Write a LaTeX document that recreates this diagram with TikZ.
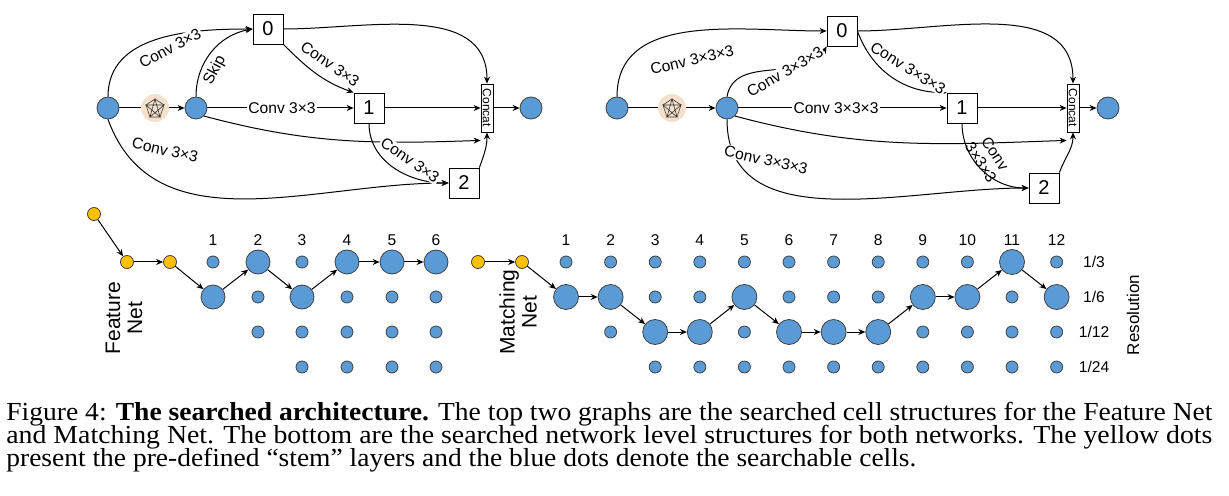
\documentclass[tikz,border=0pt]{standalone}
\usepackage{fontspec}
\setmainfont{Liberation Serif}
\newfontfamily\sansf{Liberation Sans}
\usepackage{graphicx}
\usetikzlibrary{arrows.meta}
\definecolor{bl}{RGB}{91,155,213}
\definecolor{yl}{RGB}{255,192,0}
\definecolor{cloudc}{RGB}{247,225,205}
\begin{document}
\begin{tikzpicture}[x=0.5pt,y=-0.5pt,
  ar/.style={-{Stealth[length=3.5pt,width=3pt]},line width=0.5pt},
  bc/.style={circle,fill=bl,draw=black!75,line width=0.4pt,minimum size=#1,inner sep=0pt},
  bc/.default=11pt,
  yc/.style={circle,fill=yl,draw=black!75,line width=0.4pt,minimum size=6.5pt,inner sep=0pt},
  box/.style={draw,fill=white,minimum size=15pt,inner sep=0pt,font=\sansf\fontsize{10}{10}\selectfont},
  cc/.style={draw,fill=white,minimum width=6pt,minimum height=24pt,inner sep=0pt},
  lb/.style={fill=white,inner sep=0.6pt,font=\sansf\fontsize{7.8}{8.5}\selectfont},
  num/.style={font=\sansf\fontsize{7.8}{8.5}\selectfont},
  cloud/.style={circle,fill=cloudc,minimum size=14pt,inner sep=0pt}]
\useasboundingbox (0,0) rectangle (1229,496);
\foreach \side/\xin/\xcl/\xc/\xo/\yo/\xi/\xt/\yt/\xcc/\xout in {L/108/155/196/268/29/369/464/183/487/531, R/617/672/727/842/31/962/1044/188/1073/1108}{
  \node[bc] (in\side) at (\xin,108) {};
  \node[cloud] (cl\side) at (\xcl,108) {};
  \draw[line width=0.3pt,black!80] (\xcl,99)--(\xcl+5,117)--(\xcl-9,105)--(\xcl+9,105)--(\xcl-5,117)--cycle;
  \draw[line width=0.3pt,black!80] (\xcl,99)--(\xcl+9,105)--(\xcl+5,117)--(\xcl-5,117)--(\xcl-9,105)--cycle;
  \node[bc] (c\side) at (\xc,108) {};
  \node[box] (z\side) at (\xo,\yo) {0};
  \node[box] (o\side) at (\xi,108) {1};
  \node[box] (t\side) at (\xt,\yt) {2};
  \node[cc] (k\side) at (\xcc,108) {};
  \node[rotate=-90,font=\sansf\fontsize{6}{6}\selectfont] at (k\side) {Concat};
  \node[bc] (out\side) at (\xout,108) {};
  \draw[line width=0.5pt] (in\side) -- (cl\side);
  \draw[ar] (cl\side) -- (c\side);
  \draw[ar] (c\side) -- (o\side);
  \draw[ar] (o\side) -- (k\side);
  \draw[ar] (k\side) -- (out\side);
  \draw[ar] (in\side.north) to[out=90,in=180] (z\side.west);
  \draw[ar] (z\side.east) to[out=0,in=90] (k\side.north);
  \draw[ar] (c\side.south east) to[out=-15,in=182] ([yshift=-4pt]k\side.south west);
  \draw[ar] (t\side.north east) to[out=70,in=-90] (k\side.south);
  \draw[ar] (o\side.south) to[out=-90,in=180] (t\side.west);
}
\draw[ar] (cL.north) to[out=90,in=190] (zL.west);
\draw[ar] (zL.south east) to[out=-45,in=160] (oL.north west);
\draw[ar] (inL.south) to[out=-70,in=180] (tL.west);
\draw[ar] (cR.north) to[out=80,in=240] (zR.south west);
\draw[ar] (zR.east) to[out=-70,in=180] (oR.north west);
\draw[ar] (cR.south) to[out=-90,in=180] (tR.west);
\node[lb,rotate=28] at (170,48) {Conv 3×3};
\node[lb,rotate=62] at (215,70) {Skip};
\node[lb] at (282,108) {Conv 3×3};
\node[lb,rotate=-35] at (330,64) {Conv 3×3};
\node[lb,rotate=-13] at (165,150) {Conv 3×3};
\node[lb,rotate=-35] at (410,160) {Conv 3×3};
\node[lb,rotate=13] at (692,60) {Conv 3×3×3};
\node[lb,rotate=30] at (785,72) {Conv 3×3×3};
\node[lb] at (836,108) {Conv 3×3×3};
\node[lb,rotate=-32] at (908,68) {Conv 3×3×3};
\node[lb,rotate=-13] at (766,160) {Conv 3×3×3};
\node[lb,rotate=-57,align=center,fill=none] at (988,158) {Conv\\3×3×3};
% bottom left grid
\node[yc] (y1) at (94,214) {};
\node[yc] (y2) at (127,262) {};
\node[yc] (y3) at (170,262) {};
\foreach \i/\x in {1/213,2/258,3/302,4/347,5/392,6/436}{
  \node[num] at (\x,240) {\i};
}
\foreach \x/\y in {213/262, 258/297,258/332, 302/262,302/332,302/367, 347/297,347/332,347/367, 392/297,392/332,392/367, 436/297,436/332,436/367}{
  \node[bc=6pt] at (\x,\y) {};
}
\node[bc=12pt] (f1) at (213,297) {};
\node[bc=12pt] (f2) at (258,262) {};
\node[bc=12pt] (f3) at (302,297) {};
\node[bc=12pt] (f4) at (347,262) {};
\node[bc=12pt] (f5) at (392,262) {};
\node[bc=12pt] (f6) at (436,262) {};
\draw[ar] (y1)--(y2); \draw[ar] (y2)--(y3); \draw[ar] (y3)--(f1);
\draw[ar] (f1)--(f2); \draw[ar] (f2)--(f3); \draw[ar] (f3)--(f4);
\draw[ar] (f4)--(f5); \draw[ar] (f5)--(f6);
\node[rotate=90,align=center,font=\sansf\fontsize{10.5}{11}\selectfont] at (124,318) {Feature\\Net};
% bottom right grid
\node[yc] (m1) at (478,262) {};
\node[yc] (m2) at (522,262) {};
\node[rotate=90,align=center,font=\sansf\fontsize{10.5}{11}\selectfont] at (518,312) {Matching\\Net};
\foreach \i in {1,...,12}{
  \pgfmathsetmacro{\xx}{566+44.6*(\i-1)}
  \node[num] at (\xx,240) {\i};
}
\foreach \i/\r in {1/2,2/2,3/3,4/3,5/2,6/3,7/3,8/3,9/2,10/2,11/1,12/2}{
  \pgfmathsetmacro{\xx}{566+44.6*(\i-1)}
  \foreach \rr in {1,2,3,4}{
    \pgfmathsetmacro{\yy}{262+35*(\rr-1)}
    \pgfmathtruncatemacro{\skip}{(\i==1 && \rr>2) || (\i==2 && \rr==4) ? 1 : 0}
    \ifnum\rr=\r
      \node[bc=12.5pt] (p\i) at (\xx,\yy) {};
    \else\ifnum\skip=0
      \node[bc=6pt] at (\xx,\yy) {};
    \fi\fi
  }
}
\draw[ar] (m1)--(m2); \draw[ar] (m2)--(p1);
\foreach \a/\b in {1/2,2/3,3/4,4/5,5/6,6/7,7/8,8/9,9/10,10/11,11/12}{
  \draw[ar] (p\a)--(p\b);
}
\foreach \t/\y in {{1/3}/262,{1/6}/297,{1/12}/332,{1/24}/367}{
  \node[num] at (1094,\y) {\t};
}
\node[rotate=90,font=\sansf\fontsize{8.5}{9}\selectfont] at (1133,315) {Resolution};
% caption
\node[anchor=base west,inner sep=0pt,font=\fontsize{13}{14}\selectfont] at (6,420) {\resizebox{603pt}{\height}{Figure 4: \textbf{The searched architecture.} The top two graphs are the searched cell structures for the Feature Net}};
\node[anchor=base west,inner sep=0pt,font=\fontsize{13}{14}\selectfont] at (6,443) {\resizebox{603pt}{\height}{and Matching Net. The bottom are the searched network level structures for both networks. The yellow dots}};
\node[anchor=base west,inner sep=0pt,font=\fontsize{13}{14}\selectfont] at (6,466) {\resizebox{455pt}{\height}{present the pre-defined “stem” layers and the blue dots denote the searchable cells.}};
\end{tikzpicture}
\end{document}
